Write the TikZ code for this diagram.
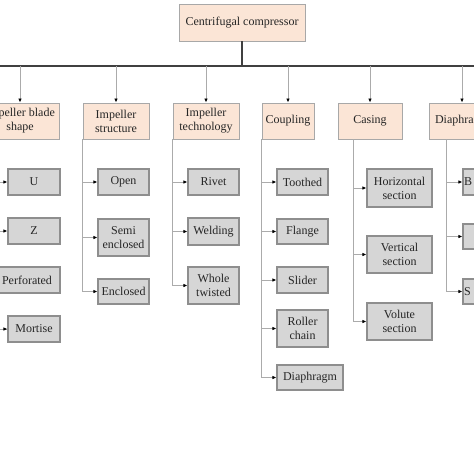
\documentclass[tikz,border=0pt]{standalone}
\usepackage{fontspec}
\setmainfont{Liberation Serif}
\usetikzlibrary{arrows.meta}
\definecolor{peach}{HTML}{FBE5D6}
\definecolor{peachline}{HTML}{A8A8A8}
\definecolor{leaffill}{HTML}{D6D6D6}
\definecolor{leafline}{HTML}{8E8E8E}
\definecolor{txt}{HTML}{262626}
\definecolor{branchc}{HTML}{ABABAB}
\tikzset{
  catbox/.style={draw=peachline, line width=0.9pt, fill=peach, align=center, inner sep=1pt,
    font=\fontsize{12}{14}\selectfont, text=txt, minimum height=36pt},
  leaf/.style={draw=leafline, line width=1.1pt, fill=leaffill, align=center, inner sep=1pt,
    font=\fontsize{12}{14}\selectfont, text=txt, minimum height=26pt},
  bus/.style={draw=black!75, line width=1.1pt},
  branch/.style={draw=branchc, line width=0.9pt},
  arr/.style={draw=branchc, line width=0.9pt, -{Latex[length=4pt,width=3.5pt,black]}},
}
\begin{document}
\begin{tikzpicture}[x=1pt,y=-1pt]
\useasboundingbox (0,0) rectangle (474,474);
\clip (0,0) rectangle (474,474);
\fill[white] (0,0) rectangle (474,474);
% root
\node[catbox, minimum width=126pt, minimum height=37pt] (root) at (242,22.5) {Centrifugal compressor};
\coordinate (busL) at (-30,66);
\coordinate (busR) at (520,66);
\coordinate (busM) at (242,66);
\draw[bus] (root.south) -- (busM);
\draw[bus] (busL) -- (busR);
% level 1
\node[catbox, minimum width=78pt] (blade) at (20,121) {Impeller blade\\shape};
\node[catbox, minimum width=66pt] (struct) at (116,121) {Impeller\\structure};
\node[catbox, minimum width=66pt] (tech) at (206,121) {Impeller\\technology};
\node[catbox, minimum width=52pt] (coup) at (288,121) {Coupling};
\node[catbox, minimum width=64pt] (casing) at (370,121) {Casing};
\node[catbox, minimum width=66pt] (diaph) at (462,121) {Diaphragm};
\foreach \n in {blade,struct,tech,coup,casing,diaph}
  \draw[arr] (\n.north |- busL) -- (\n.north);
% blade shape children
\node[leaf, minimum width=52pt] (u) at (34,182) {U};
\node[leaf, minimum width=52pt] (z) at (34,231) {Z};
\node[leaf, minimum width=66pt] (perf) at (27,280) {Perforated};
\node[leaf, minimum width=52pt] (mort) at (34,329) {Mortise};
\coordinate (bl) at (-12,139);
\draw[branch] (bl) |- (mort.west);
\foreach \n in {u,z,perf,mort} \draw[arr] (bl |- \n.west) -- (\n.west);
% structure children
\node[leaf, minimum width=51pt] (open) at (123.5,182) {Open};
\node[leaf, minimum width=51pt, minimum height=37pt] (semi) at (123.5,237.5) {Semi\\enclosed};
\node[leaf, minimum width=51pt, minimum height=25pt] (encl) at (123.5,291.5) {Enclosed};
\draw[branch] (struct.south west) -- (struct.south west |- encl.west);
\foreach \n in {open,semi,encl} \draw[arr] (struct.south west |- \n.west) -- (\n.west);
% technology children
\node[leaf, minimum width=51pt] (rivet) at (213.5,182) {Rivet};
\node[leaf, minimum width=51pt, minimum height=27pt] (weld) at (213.5,231.5) {Welding};
\node[leaf, minimum width=51pt, minimum height=37pt] (whole) at (213.5,285.5) {Whole\\twisted};
\draw[branch] (tech.south west) -- (tech.south west |- whole.west);
\foreach \n in {rivet,weld,whole} \draw[arr] (tech.south west |- \n.west) -- (\n.west);
% coupling children
\node[leaf, minimum width=51pt] (tooth) at (302.5,182) {Toothed};
\node[leaf, minimum width=51pt, minimum height=25pt] (flange) at (302.5,231.5) {Flange};
\node[leaf, minimum width=51pt] (slider) at (302.5,280) {Slider};
\node[leaf, minimum width=51pt, minimum height=37pt] (roller) at (302.5,328.5) {Roller\\chain};
\node[leaf, minimum width=66pt, minimum height=25pt] (cdia) at (310,377.5) {Diaphragm};
\draw[branch] (coup.south west) -- (coup.south west |- cdia.west);
\foreach \n in {tooth,flange,slider,roller} \draw[arr] (coup.south west |- \n.west) -- (\n.west);
\draw[arr] (coup.south west |- cdia.west) -- (cdia.west);
% casing children
\node[leaf, minimum width=65pt, minimum height=38pt] (hor) at (399.5,188) {Horizontal\\section};
\node[leaf, minimum width=65pt, minimum height=37pt] (ver) at (399.5,254.5) {Vertical\\section};
\node[leaf, minimum width=65pt, minimum height=37pt] (vol) at (399.5,321.5) {Volute\\section};
\coordinate (cs) at ([xshift=16pt]casing.south west);
\draw[branch] (cs) -- (cs |- vol.west);
\foreach \n in {hor,ver,vol} \draw[arr] (cs |- \n.west) -- (\n.west);
% diaphragm children
\node[leaf, text width=47pt, align=left, minimum height=26pt] (d1) at (487.5,182) {B};
\node[leaf, text width=47pt, align=left, minimum height=25pt] (d2) at (487.5,236.5) {};
\node[leaf, text width=47pt, align=left, minimum height=25pt] (d3) at (487.5,291.5) {S};
\coordinate (ds) at ([xshift=18pt]diaph.south west);
\draw[branch] (ds) -- (ds |- d3.west);
\foreach \n in {d1,d2,d3} \draw[arr] (ds |- \n.west) -- (\n.west);
\end{tikzpicture}
\end{document}
